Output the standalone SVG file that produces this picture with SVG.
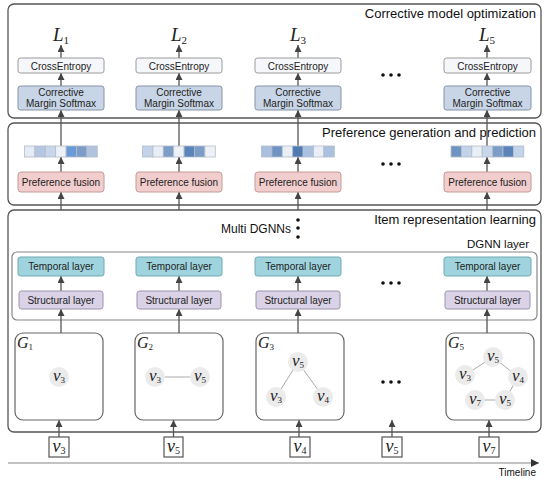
<svg xmlns="http://www.w3.org/2000/svg" width="550" height="485" viewBox="0 0 550 485">
<defs>
<marker id="ah" viewBox="0 0 10 10" refX="10" refY="5" markerWidth="7" markerHeight="7" markerUnits="userSpaceOnUse" orient="auto"><path d="M0,0 L10,5 L0,10 z" fill="#444"/></marker>
<marker id="ah2" viewBox="0 0 10 10" refX="10" refY="5" markerWidth="8" markerHeight="8" markerUnits="userSpaceOnUse" orient="auto"><path d="M0,0 L10,5 L0,10 z" fill="#333"/></marker>
</defs>
<style>
.panel{fill:none;stroke:#555;stroke-width:1.3}
.inner{fill:none;stroke:#888;stroke-width:1.2}
.ttl{font-family:"Liberation Sans",Arial,sans-serif;font-size:13px;fill:#111}
.lbl{font-family:"Liberation Sans",Arial,sans-serif;font-size:10px;fill:#222;text-anchor:middle}
.ce{fill:#f6f7fb;stroke:#9a9a9a;stroke-width:1}
.cms{fill:#c8d5e6;stroke:#8593a6;stroke-width:1}
.pf{fill:#f2cdcd;stroke:#c49a9a;stroke-width:1}
.tl{fill:#9fd4de;stroke:#6fa9b3;stroke-width:1}
.sl{fill:#dad2e6;stroke:#9a92aa;stroke-width:1}
.gb{fill:#fff;stroke:#666;stroke-width:1.2}
.vb{fill:#fff;stroke:#555;stroke-width:1.2}
.cell{stroke:#b5bcc8;stroke-width:0.8}
.con{stroke:#555;stroke-width:1.3;fill:none;marker-end:url(#ah)}
.edge{stroke:#aaa;stroke-width:1}
.nd{fill:#ebebeb}
.it{font-family:"Liberation Serif","Times New Roman",serif;font-style:italic;fill:#222}
.sub{font-family:"Liberation Serif","Times New Roman",serif;font-style:normal}
.dot{fill:#111}
</style>
<rect width="550" height="485" fill="#fff"/>

<g id="panels">
<rect class="panel" x="8" y="4" width="533" height="114" rx="6"/>
<rect class="panel" x="8" y="123" width="533" height="82" rx="6"/>
<rect class="panel" x="8" y="210" width="533" height="222" rx="6"/>
<rect class="inner" x="12" y="252" width="525" height="68" rx="5"/>
<text class="ttl" x="536" y="18" text-anchor="end">Corrective model optimization</text>
<text class="ttl" x="536" y="137" text-anchor="end">Preference generation and prediction</text>
<text class="ttl" x="536" y="224" text-anchor="end">Item representation learning</text>
<text class="ttl" x="291" y="233" text-anchor="end" style="font-size:12px">Multi DGNNs</text>
<text class="ttl" x="529" y="248" text-anchor="end" style="font-size:11.5px">DGNN layer</text>
<circle class="dot" cx="298" cy="220" r="1.8"/>
<circle class="dot" cx="298" cy="228" r="1.8"/>
<circle class="dot" cx="298" cy="237" r="1.8"/>
</g>

<g id="connectors">
<!-- col1 x=61 -->
<line class="con" x1="61" y1="58" x2="61" y2="45"/>
<line class="con" x1="61" y1="86" x2="61" y2="73"/>
<line class="con" x1="61" y1="146" x2="61" y2="110"/>
<line class="con" x1="61" y1="172" x2="61" y2="157"/>
<line class="con" x1="61" y1="210" x2="61" y2="192"/>
<line class="con" x1="61" y1="291" x2="61" y2="276"/>
<line class="con" x1="61" y1="333" x2="61" y2="309"/>
<line class="con" x1="59" y1="437" x2="59" y2="420"/>
<!-- col2 x=179 -->
<line class="con" x1="179" y1="58" x2="179" y2="45"/>
<line class="con" x1="179" y1="86" x2="179" y2="73"/>
<line class="con" x1="179" y1="146" x2="179" y2="110"/>
<line class="con" x1="179" y1="172" x2="179" y2="157"/>
<line class="con" x1="179" y1="210" x2="179" y2="192"/>
<line class="con" x1="179" y1="291" x2="179" y2="276"/>
<line class="con" x1="179" y1="333" x2="179" y2="309"/>
<line class="con" x1="173.5" y1="437" x2="173.5" y2="420"/>
<!-- col3 x=298 -->
<line class="con" x1="298" y1="58" x2="298" y2="45"/>
<line class="con" x1="298" y1="86" x2="298" y2="73"/>
<line class="con" x1="298" y1="146" x2="298" y2="110"/>
<line class="con" x1="298" y1="172" x2="298" y2="157"/>
<line class="con" x1="298" y1="210" x2="298" y2="192"/>
<line class="con" x1="298" y1="291" x2="298" y2="276"/>
<line class="con" x1="298" y1="333" x2="298" y2="309"/>
<line class="con" x1="299" y1="437" x2="299" y2="420"/>
<!-- dots column -->
<line class="con" x1="392" y1="437" x2="392" y2="420"/>
<!-- col5 x=487 -->
<line class="con" x1="487" y1="58" x2="487" y2="45"/>
<line class="con" x1="487" y1="86" x2="487" y2="73"/>
<line class="con" x1="487" y1="146" x2="487" y2="110"/>
<line class="con" x1="487" y1="172" x2="487" y2="157"/>
<line class="con" x1="487" y1="210" x2="487" y2="192"/>
<line class="con" x1="487" y1="291" x2="487" y2="276"/>
<line class="con" x1="487" y1="333" x2="487" y2="309"/>
<line class="con" x1="489" y1="437" x2="489" y2="420"/>
<!-- timeline -->
<line x1="8" y1="463" x2="539" y2="463" stroke="#888" stroke-width="1.2" marker-end="url(#ah2)"/>
</g>

<g id="col1">
<text class="it" x="61" y="41" text-anchor="middle" font-size="19">L<tspan class="sub" font-size="11" dy="3">1</tspan></text>
<rect class="ce" x="18" y="58" width="86" height="15" rx="2.5"/>
<text class="lbl" x="61" y="69.5">CrossEntropy</text>
<rect class="cms" x="18" y="86" width="86" height="24" rx="2.5"/>
<text class="lbl" x="61" y="96">Corrective</text>
<text class="lbl" x="61" y="107">Margin Softmax</text>
<g class="cell">
<rect x="24.5" y="146" width="10.4" height="11" fill="#e6ecf6"/>
<rect x="34.9" y="146" width="10.4" height="11" fill="#b4c6e2"/>
<rect x="45.3" y="146" width="10.4" height="11" fill="#c8d6ec"/>
<rect x="55.7" y="146" width="10.4" height="11" fill="#eef2f8"/>
<rect x="66.1" y="146" width="10.4" height="11" fill="#6a9ad8"/>
<rect x="76.5" y="146" width="10.4" height="11" fill="#7b9dc8"/>
<rect x="86.9" y="146" width="10.4" height="11" fill="#b0c4e0"/>
</g>
<rect class="pf" x="18" y="172" width="86" height="20" rx="3"/>
<text class="lbl" x="61" y="185.5">Preference fusion</text>
<rect class="tl" x="18" y="257" width="86" height="19" rx="2.5"/>
<text class="lbl" x="61" y="270">Temporal layer</text>
<rect class="sl" x="19" y="291" width="84" height="18" rx="2.5"/>
<text class="lbl" x="61" y="303.5">Structural layer</text>
<rect class="gb" x="15" y="333" width="88" height="87" rx="8"/>
<text class="it" x="17" y="348" font-size="16">G<tspan class="sub" font-size="9" dy="2">1</tspan></text>
<circle class="nd" cx="59" cy="377" r="10"/>
<text class="it" x="59" y="381" text-anchor="middle" font-size="17">v<tspan class="sub" font-size="9" dy="2">3</tspan></text>
<rect class="vb" x="49" y="437" width="20" height="20"/>
<text class="it" x="59" y="452" text-anchor="middle" font-size="18">v<tspan class="sub" font-size="10" dy="2">3</tspan></text>
</g>

<g id="col2">
<text class="it" x="179" y="41" text-anchor="middle" font-size="19">L<tspan class="sub" font-size="11" dy="3">2</tspan></text>
<rect class="ce" x="136" y="58" width="86" height="15" rx="2.5"/>
<text class="lbl" x="179" y="69.5">CrossEntropy</text>
<rect class="cms" x="136" y="86" width="86" height="24" rx="2.5"/>
<text class="lbl" x="179" y="96">Corrective</text>
<text class="lbl" x="179" y="107">Margin Softmax</text>
<g class="cell">
<rect x="142.5" y="146" width="10.4" height="11" fill="#c2d3ea"/>
<rect x="152.9" y="146" width="10.4" height="11" fill="#e9eef7"/>
<rect x="163.3" y="146" width="10.4" height="11" fill="#7b9dc8"/>
<rect x="173.7" y="146" width="10.4" height="11" fill="#eef2f8"/>
<rect x="184.1" y="146" width="10.4" height="11" fill="#5b84bb"/>
<rect x="194.5" y="146" width="10.4" height="11" fill="#7b9dc8"/>
<rect x="204.9" y="146" width="10.4" height="11" fill="#eef2f8"/>
</g>
<rect class="pf" x="136" y="172" width="86" height="20" rx="3"/>
<text class="lbl" x="179" y="185.5">Preference fusion</text>
<rect class="tl" x="136" y="257" width="86" height="19" rx="2.5"/>
<text class="lbl" x="179" y="270">Temporal layer</text>
<rect class="sl" x="137" y="291" width="84" height="18" rx="2.5"/>
<text class="lbl" x="179" y="303.5">Structural layer</text>
<rect class="gb" x="135" y="333" width="88" height="87" rx="8"/>
<text class="it" x="137" y="348" font-size="16">G<tspan class="sub" font-size="9" dy="2">2</tspan></text>
<line class="edge" x1="155" y1="377" x2="200" y2="377"/>
<circle class="nd" cx="155" cy="377" r="10"/>
<text class="it" x="155" y="381" text-anchor="middle" font-size="17">v<tspan class="sub" font-size="9" dy="2">3</tspan></text>
<circle class="nd" cx="200" cy="377" r="10"/>
<text class="it" x="200" y="381" text-anchor="middle" font-size="17">v<tspan class="sub" font-size="9" dy="2">5</tspan></text>
<rect class="vb" x="164" y="437" width="19" height="20"/>
<text class="it" x="173.5" y="452" text-anchor="middle" font-size="18">v<tspan class="sub" font-size="10" dy="2">5</tspan></text>
</g>

<g id="col3">
<text class="it" x="298" y="41" text-anchor="middle" font-size="19">L<tspan class="sub" font-size="11" dy="3">3</tspan></text>
<rect class="ce" x="255" y="58" width="86" height="15" rx="2.5"/>
<text class="lbl" x="298" y="69.5">CrossEntropy</text>
<rect class="cms" x="255" y="86" width="86" height="24" rx="2.5"/>
<text class="lbl" x="298" y="96">Corrective</text>
<text class="lbl" x="298" y="107">Margin Softmax</text>
<g class="cell">
<rect x="261.5" y="146" width="10.4" height="11" fill="#a9c0e0"/>
<rect x="271.9" y="146" width="10.4" height="11" fill="#6f94c4"/>
<rect x="282.3" y="146" width="10.4" height="11" fill="#e9eef7"/>
<rect x="292.7" y="146" width="10.4" height="11" fill="#4f7bb5"/>
<rect x="303.1" y="146" width="10.4" height="11" fill="#a9c0e0"/>
<rect x="313.5" y="146" width="10.4" height="11" fill="#e9eef7"/>
<rect x="323.9" y="146" width="10.4" height="11" fill="#a9c0e0"/>
</g>
<rect class="pf" x="255" y="172" width="86" height="20" rx="3"/>
<text class="lbl" x="298" y="185.5">Preference fusion</text>
<rect class="tl" x="255" y="257" width="86" height="19" rx="2.5"/>
<text class="lbl" x="298" y="270">Temporal layer</text>
<rect class="sl" x="256" y="291" width="84" height="18" rx="2.5"/>
<text class="lbl" x="298" y="303.5">Structural layer</text>
<rect class="gb" x="256" y="333" width="88" height="87" rx="8"/>
<text class="it" x="258" y="348" font-size="16">G<tspan class="sub" font-size="9" dy="2">3</tspan></text>
<line class="edge" x1="298" y1="362" x2="276" y2="397"/>
<line class="edge" x1="298" y1="362" x2="323" y2="397"/>
<circle class="nd" cx="298" cy="362" r="10"/>
<text class="it" x="298" y="366" text-anchor="middle" font-size="17">v<tspan class="sub" font-size="9" dy="2">5</tspan></text>
<circle class="nd" cx="276" cy="397" r="10"/>
<text class="it" x="276" y="401" text-anchor="middle" font-size="17">v<tspan class="sub" font-size="9" dy="2">3</tspan></text>
<circle class="nd" cx="323" cy="397" r="10"/>
<text class="it" x="323" y="401" text-anchor="middle" font-size="17">v<tspan class="sub" font-size="9" dy="2">4</tspan></text>
<rect class="vb" x="290" y="437" width="20" height="20"/>
<text class="it" x="300" y="452" text-anchor="middle" font-size="18">v<tspan class="sub" font-size="10" dy="2">4</tspan></text>
</g>

<g id="col4-ellipsis">
<circle class="dot" cx="383" cy="75" r="1.8"/><circle class="dot" cx="391" cy="75" r="1.8"/><circle class="dot" cx="399" cy="75" r="1.8"/>
<circle class="dot" cx="383" cy="164" r="1.8"/><circle class="dot" cx="391" cy="164" r="1.8"/><circle class="dot" cx="399" cy="164" r="1.8"/>
<circle class="dot" cx="383" cy="283" r="1.8"/><circle class="dot" cx="391" cy="283" r="1.8"/><circle class="dot" cx="399" cy="283" r="1.8"/>
<circle class="dot" cx="383" cy="382" r="1.8"/><circle class="dot" cx="391" cy="382" r="1.8"/><circle class="dot" cx="399" cy="382" r="1.8"/>
<rect class="vb" x="382" y="437" width="20" height="20"/>
<text class="it" x="392" y="452" text-anchor="middle" font-size="18">v<tspan class="sub" font-size="10" dy="2">5</tspan></text>
</g>

<g id="col5">
<text class="it" x="487" y="41" text-anchor="middle" font-size="19">L<tspan class="sub" font-size="11" dy="3">5</tspan></text>
<rect class="ce" x="444" y="58" width="87" height="15" rx="2.5"/>
<text class="lbl" x="487.5" y="69.5">CrossEntropy</text>
<rect class="cms" x="444" y="86" width="87" height="24" rx="2.5"/>
<text class="lbl" x="487.5" y="96">Corrective</text>
<text class="lbl" x="487.5" y="107">Margin Softmax</text>
<g class="cell">
<rect x="451" y="146" width="10.4" height="11" fill="#6f94c4"/>
<rect x="461.4" y="146" width="10.4" height="11" fill="#c2d3ea"/>
<rect x="471.8" y="146" width="10.4" height="11" fill="#e9eef7"/>
<rect x="482.2" y="146" width="10.4" height="11" fill="#c8d6ec"/>
<rect x="492.6" y="146" width="10.4" height="11" fill="#7b9dc8"/>
<rect x="503" y="146" width="10.4" height="11" fill="#5b84bb"/>
<rect x="513.4" y="146" width="10.4" height="11" fill="#c2d3ea"/>
</g>
<rect class="pf" x="444" y="172" width="87" height="20" rx="3"/>
<text class="lbl" x="487.5" y="185.5">Preference fusion</text>
<rect class="tl" x="444" y="257" width="87" height="19" rx="2.5"/>
<text class="lbl" x="487.5" y="270">Temporal layer</text>
<rect class="sl" x="445" y="291" width="85" height="18" rx="2.5"/>
<text class="lbl" x="487.5" y="303.5">Structural layer</text>
<rect class="gb" x="446" y="333" width="88" height="87" rx="8"/>
<text class="it" x="448" y="348" font-size="16">G<tspan class="sub" font-size="9" dy="2">5</tspan></text>
<line class="edge" x1="493" y1="357" x2="465" y2="375"/>
<line class="edge" x1="493" y1="357" x2="518" y2="377"/>
<line class="edge" x1="518" y1="377" x2="505" y2="400"/>
<line class="edge" x1="475" y1="400" x2="505" y2="400"/>
<circle class="nd" cx="493" cy="357" r="10"/>
<text class="it" x="493" y="361" text-anchor="middle" font-size="17">v<tspan class="sub" font-size="9" dy="2">5</tspan></text>
<circle class="nd" cx="465" cy="375" r="10"/>
<text class="it" x="465" y="379" text-anchor="middle" font-size="17">v<tspan class="sub" font-size="9" dy="2">3</tspan></text>
<circle class="nd" cx="518" cy="377" r="10"/>
<text class="it" x="518" y="381" text-anchor="middle" font-size="17">v<tspan class="sub" font-size="9" dy="2">4</tspan></text>
<circle class="nd" cx="475" cy="400" r="10"/>
<text class="it" x="475" y="404" text-anchor="middle" font-size="17">v<tspan class="sub" font-size="9" dy="2">7</tspan></text>
<circle class="nd" cx="505" cy="400" r="10"/>
<text class="it" x="505" y="404" text-anchor="middle" font-size="17">v<tspan class="sub" font-size="9" dy="2">5</tspan></text>
<rect class="vb" x="479" y="437" width="20" height="20"/>
<text class="it" x="489" y="452" text-anchor="middle" font-size="18">v<tspan class="sub" font-size="10" dy="2">7</tspan></text>
</g>

<g id="timeline-label">
<text class="ttl" x="536" y="476" text-anchor="end" style="font-size:10px">Timeline</text>
</g>
</svg>
